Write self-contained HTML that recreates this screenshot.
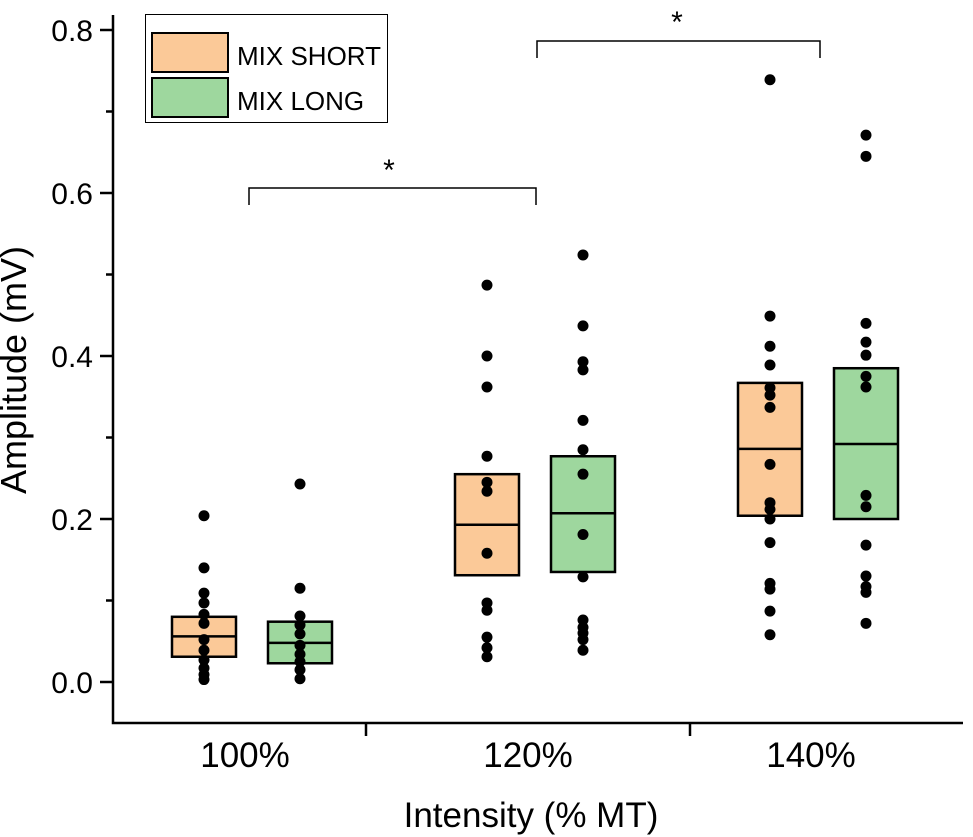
<!DOCTYPE html>
<html><head><meta charset="utf-8"><style>
body{margin:0;background:#fff}
svg{display:block;font-family:"Liberation Sans",Arial,sans-serif}
</style></head><body>
<svg id="chart" width="973" height="837" viewBox="0 0 973 837" xmlns="http://www.w3.org/2000/svg">
<g id="axes"></g>
<g id="marks"></g>
<text transform="translate(26,370) rotate(-90)" text-anchor="middle" font-size="36">Amplitude (mV)</text>
<text x="531" y="827" text-anchor="middle" font-size="35">Intensity (% MT)</text>
<g>
<rect x="145.5" y="14.5" width="242" height="108" fill="#fff" stroke="#000" stroke-width="1"/>
<rect x="152" y="33" width="76" height="39" fill="#FBC998" stroke="#000" stroke-width="2"/>
<text x="237" y="65" font-size="26">MIX SHORT</text>
<rect x="152" y="78" width="76" height="39" fill="#9ED79E" stroke="#000" stroke-width="2"/>
<text x="237" y="110" font-size="26">MIX LONG</text>
</g>
<g fill="none" stroke="#000" stroke-width="1.5">
<path d="M249,205 V188 H536 V205"/>
</g>
<text x="389" y="180" text-anchor="middle" font-size="30">*</text>
<g fill="none" stroke="#000" stroke-width="1.5">
<path d="M537,58 V41 H820 V58"/>
</g>
<text x="677" y="32" text-anchor="middle" font-size="30">*</text>
</svg>
<script>
const categories = ["100%","120%","140%"];
const yTicks = [0,0.2,0.4,0.6,0.8];
const yTickLabels = ["0.0","0.2","0.4","0.6","0.8"];
const shortQ1 = [0.031,0.131,0.204];
const shortMedian = [0.056,0.193,0.286];
const shortQ3 = [0.080,0.255,0.367];
const longQ1 = [0.023,0.135,0.200];
const longMedian = [0.048,0.207,0.292];
const longQ3 = [0.074,0.277,0.385];
const shortPoints100 = [0.204,0.14,0.109,0.097,0.083,0.072,0.052,0.039,0.027,0.017,0.009,0.003];
const longPoints100 = [0.243,0.115,0.081,0.07,0.059,0.045,0.034,0.025,0.015,0.004];
const shortPoints120 = [0.487,0.40,0.362,0.277,0.245,0.234,0.158,0.097,0.088,0.055,0.042,0.031];
const longPoints120 = [0.524,0.437,0.393,0.383,0.321,0.285,0.255,0.181,0.129,0.076,0.067,0.06,0.052,0.039];
const shortPoints140 = [0.739,0.449,0.412,0.389,0.361,0.352,0.337,0.267,0.22,0.212,0.2,0.171,0.121,0.114,0.087,0.058];
const longPoints140 = [0.671,0.645,0.44,0.417,0.401,0.375,0.362,0.229,0.215,0.168,0.13,0.117,0.11,0.072];

const NS="http://www.w3.org/2000/svg";
const y = v => 682 - v*815;
const xc = i => 252 + i*283;
const boxW = 64, off = 48;
function mk(tag, attrs, parent){const e=document.createElementNS(NS,tag);for(const k in attrs)e.setAttribute(k,attrs[k]);parent.appendChild(e);return e;}
const axes=document.getElementById('axes'), marks=document.getElementById('marks');

let a=mk('path',{d:'M113,15 V723 H963',fill:'none',stroke:'#000','stroke-width':2.5},axes);


yTicks.forEach((v,i)=>{
  let t=mk('line',{x1:100,x2:113,y1:y(v),y2:y(v),stroke:'#000','stroke-width':2.5},axes);
  
  
  let l=mk('text',{x:93,y:y(v)+11,'text-anchor':'end','font-size':30},axes);
  l.textContent=yTickLabels[i];
  
  
  if(i<yTicks.length-1){
    let m=mk('line',{x1:106,x2:113,y1:y(v+0.1),y2:y(v+0.1),stroke:'#000','stroke-width':2.5},axes);
    
    
  }
});
[366,690].forEach(xx=>{
  let t=mk('line',{x1:xx,x2:xx,y1:723,y2:736,stroke:'#000','stroke-width':2.5},axes);
  
  
});
categories.forEach((c,i)=>{
  let l=mk('text',{x:xc(i)-7,y:767,'text-anchor':'middle','font-size':35},axes);
  l.textContent=c;
  
  
});

const shortPts=[shortPoints100,shortPoints120,shortPoints140];
const longPts=[longPoints100,longPoints120,longPoints140];
function drawBox(cx,q1,med,q3,fill,name){
  let r=mk('rect',{x:cx-boxW/2,y:y(q3),width:boxW,height:y(q1)-y(q3),fill:fill,stroke:'#000','stroke-width':2.5},marks);
  
  
  let m=mk('line',{x1:cx-boxW/2,x2:cx+boxW/2,y1:y(med),y2:y(med),stroke:'#000','stroke-width':2.5},marks);
  
  
}
function drawPts(cx,arr,name){
  arr.forEach(v=>{
    let c=mk('circle',{cx:cx,cy:y(v),r:5.5,fill:'#000'},marks);
    
    
  });
}
categories.forEach((c,i)=>{
  const xs=xc(i)-off, xl=xc(i)+off;
  drawBox(xs,shortQ1[i],shortMedian[i],shortQ3[i],'#FBC998','box-short-'+c.replace('%',''));
  drawBox(xl,longQ1[i],longMedian[i],longQ3[i],'#9ED79E','box-long-'+c.replace('%',''));
  drawPts(xs,shortPts[i],'point-short');
  drawPts(xl,longPts[i],'point-long');
});
</script>
</body></html>
